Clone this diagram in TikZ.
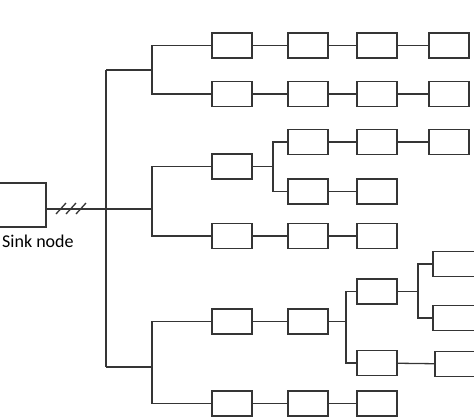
\documentclass[tikz,border=0pt]{standalone}
\usepackage{fontspec}
\setmainfont{Carlito}
\definecolor{linec}{HTML}{353535}
\begin{document}
\begin{tikzpicture}[x=1pt,y=-1pt,
  box/.style={draw=linec, line width=1.5pt, minimum width=40pt, minimum height=25pt, inner sep=0pt, outer sep=0pt},
  wire/.style={draw=linec, line width=1.3pt},
  lbl/.style={font=\fontsize{18}{20}\selectfont, text=black, inner sep=0pt, anchor=base west}]
\useasboundingbox (0,0) rectangle (474,416);
\clip (0,0) rectangle (474,416);
% sink
\node[box, minimum width=47pt, minimum height=44pt] (s) at (22.5,205) {};
\node[lbl] (sl) at (2,247) {Sink node};
% junctions
\coordinate (jt) at (106,70);
\coordinate (jm) at (106,209);
\coordinate (jb) at (106,367);
\coordinate (b1) at (152,70);
\coordinate (b2) at (152,209);
\coordinate (b3) at (152,367);
% row 1
\node[box] (r1a) at (232,45.5) {};
\node[box] (r1b) at (308,45.5) {};
\node[box] (r1c) at (377,45.5) {};
\node[box] (r1d) at (449,45.5) {};
% row 2
\node[box] (r2a) at (232,94) {};
\node[box] (r2b) at (308,94) {};
\node[box] (r2c) at (377,94) {};
\node[box] (r2d) at (449,94) {};
% middle branch
\node[box] (ma) at (232,166.5) {};
\node[box] (m1b) at (308,142) {};
\node[box] (m1c) at (377,142) {};
\node[box] (m1d) at (449,142) {};
\node[box] (m2b) at (308,191.5) {};
\node[box] (m2c) at (377,191.5) {};
\node[box] (r4a) at (232,236) {};
\node[box] (r4b) at (308,236) {};
\node[box] (r4c) at (377,236) {};
% bottom branch
\node[box] (ba) at (232,321.5) {};
\node[box] (bb) at (308,321.5) {};
\node[box] (c1) at (377,291.5) {};
\node[box] (c2) at (377,363) {};
\node[box, minimum width=45pt] (d1) at (455.5,264) {};
\node[box, minimum width=45pt] (d2) at (455.5,318) {};
\node[box, minimum width=45pt] (e1) at (457.5,364) {};
\node[box] (fa) at (232,403.5) {};
\node[box] (fb) at (308,403.5) {};
\node[box] (fc) at (377,403.5) {};
% trunk
\draw[wire] (s.east |- jm) -- (b2);
\draw[wire] (jt) -- (jb);
\draw[wire] (jt) -- (b1);
\draw[wire] (jb) -- (b3);
\foreach \x in {56,66,76}
  \draw[wire] (\x,214) -- ++(10,-11);
% top branch
\draw[wire] (r1a.west) -| (b1) |- (r2a.west);
\draw[wire] (r1a) -- (r1b) -- (r1c) -- (r1d);
\draw[wire] (r2a) -- (r2b) -- (r2c) -- (r2d);
% middle branch
\draw[wire] (ma.west) -| (b2) |- (r4a.west);
\coordinate (k1) at (273,166.5);
\draw[wire] (ma.east) -- (k1);
\draw[wire] (m1b.west) -| (k1) |- (m2b.west);
\draw[wire] (m1b) -- (m1c) -- (m1d);
\draw[wire] (m2b) -- (m2c);
\draw[wire] (r4a) -- (r4b) -- (r4c);
% bottom branch
\draw[wire] (ba.west) -| (b3) |- (fa.west);
\draw[wire] (ba) -- (bb);
\coordinate (k2) at (346,321.5);
\draw[wire] (bb.east) -- (k2);
\draw[wire] (c1.west) -| (k2) |- (c2.west);
\coordinate (k3) at (418,291.5);
\draw[wire] (c1.east) -- (k3);
\draw[wire] (d1.west) -| (k3) |- (d2.west);
\draw[wire] (c2) -- (e1);
\draw[wire] (fa) -- (fb) -- (fc);
\end{tikzpicture}
\end{document}
